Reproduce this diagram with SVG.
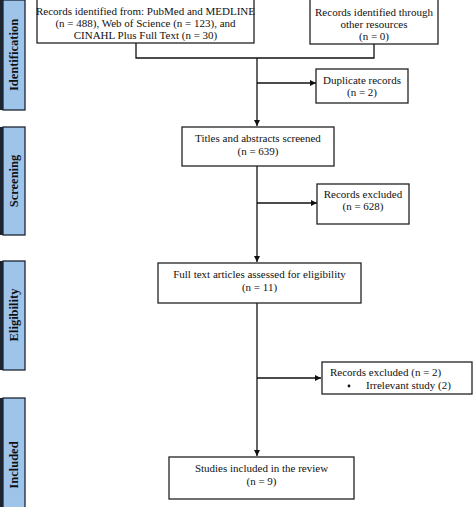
<svg xmlns="http://www.w3.org/2000/svg" width="474" height="507" viewBox="0 0 474 507">
<defs>
<style>
.box{fill:#fff;stroke:#222;stroke-width:1.3}
.side{fill:#9fc4ea;stroke:#1d2533;stroke-width:1.3}
.shade{fill:#1d2533}
.t{font-family:"Liberation Serif","Times New Roman",serif;font-size:11px;fill:#111;text-anchor:middle}
.s{font-family:"Liberation Serif","Times New Roman",serif;font-size:12.5px;font-weight:bold;fill:#111;text-anchor:middle}
.ln{fill:none;stroke:#111;stroke-width:1.3}
</style>
<marker id="ar" viewBox="0 0 8 8" refX="8" refY="4" markerWidth="6" markerHeight="6" orient="auto" markerUnits="userSpaceOnUse">
<path d="M0,0 L8,4 L0,8 z" fill="#111"/>
</marker>
</defs>
<rect width="474" height="507" fill="#fff"/>
<g id="side-identification">
<rect class="shade" x="0" y="0" width="4" height="110"/>
<rect class="side" x="3" y="0" width="22" height="110"/>
<text class="s" transform="translate(18,55) rotate(-90)">Identification</text>
</g>
<g id="side-screening">
<rect class="shade" x="0" y="127" width="4" height="108"/>
<rect class="side" x="3" y="127" width="22" height="108"/>
<text class="s" transform="translate(18,181) rotate(-90)">Screening</text>
</g>
<g id="side-eligibility">
<rect class="shade" x="0" y="261" width="4" height="109"/>
<rect class="side" x="3" y="261" width="22" height="109"/>
<text class="s" transform="translate(18,315) rotate(-90)">Eligibility</text>
</g>
<g id="side-included">
<rect class="shade" x="0" y="398" width="4" height="110"/>
<rect class="side" x="3" y="398" width="22" height="110"/>
<text class="s" transform="translate(18,465) rotate(-90)">Included</text>
</g>
<g id="connectors">
<path class="ln" d="M136,43 V58 H374 V44"/>
<path class="ln" d="M257,58 V126" marker-end="url(#ar)"/>
<path class="ln" d="M257,83 H316" marker-end="url(#ar)"/>
<path class="ln" d="M257,166 V262" marker-end="url(#ar)"/>
<path class="ln" d="M257,203 H317" marker-end="url(#ar)"/>
<path class="ln" d="M257,303 V456" marker-end="url(#ar)"/>
<path class="ln" d="M257,378 H321" marker-end="url(#ar)"/>
</g>
<g id="n-records-db">
<rect class="box" x="37" y="-1" width="217" height="44"/>
<text class="t" x="145.5" y="15">Records identified from: PubMed and MEDLINE</text>
<text class="t" x="145.5" y="27">(n = 488), Web of Science (n = 123), and</text>
<text class="t" x="145.5" y="39">CINAHL Plus Full Text (n = 30)</text>
</g>
<g id="n-records-other">
<rect class="box" x="310" y="-1" width="128" height="45"/>
<text class="t" x="374" y="16">Records identified through</text>
<text class="t" x="374" y="28">other resources</text>
<text class="t" x="374" y="40">(n = 0)</text>
</g>
<g id="n-duplicates">
<rect class="box" x="316" y="69" width="92" height="34"/>
<text class="t" x="362" y="84">Duplicate records</text>
<text class="t" x="362" y="96">(n = 2)</text>
</g>
<g id="n-screened">
<rect class="box" x="182" y="127" width="152" height="39"/>
<text class="t" x="258" y="142">Titles and abstracts screened</text>
<text class="t" x="258" y="155">(n = 639)</text>
</g>
<g id="n-excluded1">
<rect class="box" x="317" y="184" width="92" height="40"/>
<text class="t" x="363" y="198">Records excluded</text>
<text class="t" x="363" y="210">(n = 628)</text>
</g>
<g id="n-fulltext">
<rect class="box" x="158" y="263" width="203" height="40"/>
<text class="t" x="259.5" y="278">Full text articles assessed for eligibility</text>
<text class="t" x="259.5" y="291">(n = 11)</text>
</g>
<g id="n-excluded2">
<rect class="box" x="322" y="362" width="150" height="32"/>
<text class="t" x="330" y="376" style="text-anchor:start">Records excluded (n = 2)</text>
<circle cx="349" cy="386" r="1.4" fill="#111"/>
<text class="t" x="366" y="389" style="text-anchor:start">Irrelevant study (2)</text>
</g>
<g id="n-included">
<rect class="box" x="169" y="457" width="185" height="42"/>
<text class="t" x="261.5" y="472">Studies included in the review</text>
<text class="t" x="261.5" y="485">(n = 9)</text>
</g>
</svg>
